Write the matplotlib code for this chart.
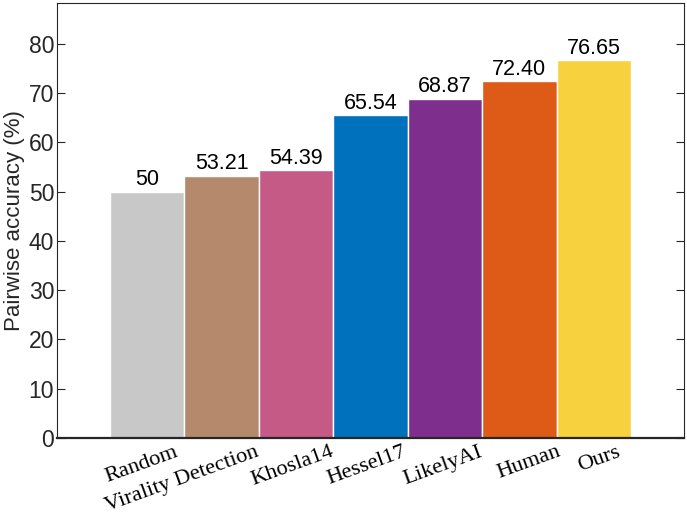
import matplotlib
matplotlib.use("Agg")
import matplotlib.pyplot as plt
import matplotlib.transforms as mtransforms

categories = ["Random", "Virality Detection", "Khosla14", "Hessel17", "LikelyAI", "Human", "Ours"]
values = [50, 53.21, 54.39, 65.54, 68.87, 72.40, 76.65]
value_labels = ["50", "53.21", "54.39", "65.54", "68.87", "72.40", "76.65"]
colors = ["#C8C8C8", "#B5896C", "#C65A87", "#0072BD", "#7E2F8E", "#DD5B17", "#F8D13F"]
yticks = [0, 10, 20, 30, 40, 50, 60, 70, 80]

# layout: horizontal nudge of each rotated category label (pixels)
label_dx_px = [27, 33, 34, 32, 34, 37, 23]

fig = plt.figure(figsize=(6.87, 5.17), dpi=100)
ax = fig.add_axes([57/687, 79/517, (684-57)/687, (438-3)/517])

x = list(range(len(categories)))
ax.bar(x, values, width=1.0, color=colors, edgecolor="white", linewidth=1.0, zorder=2)

for xi, v, lab in zip(x, values, value_labels):
    ax.annotate(lab, (xi, v), xytext=(0, 1.0), textcoords="offset points",
                ha="center", va="bottom", fontsize=15.5, family="Liberation Sans", color="black")

ax.set_xlim(-1.21, 7.21)
ax.set_ylim(0, 88.3)
ax.set_yticks(yticks)
ax.set_yticklabels([str(t) for t in yticks], fontsize=16.5, family="Liberation Sans", color="#262626")
ax.set_xticks(x)
ax.set_xticklabels([])
ax.tick_params(axis="x", length=0)
ax.tick_params(axis="y", direction="in", length=6, width=0.8, color="#262626", right=True, pad=2)
ax.set_ylabel("Pairwise accuracy (%)", fontsize=16, family="Liberation Sans", color="#262626", labelpad=3)

for s in ["left", "right", "top"]:
    ax.spines[s].set_color("#262626")
    ax.spines[s].set_linewidth(0.8)
ax.spines["bottom"].set_color("#262626")
ax.spines["bottom"].set_linewidth(1.6)

trans = mtransforms.blended_transform_factory(ax.transData, ax.transAxes)
for xi, lab, dx in zip(x, categories, label_dx_px):
    offset = mtransforms.ScaledTranslation(dx / 100, -0.045, fig.dpi_scale_trans)
    ax.text(xi, 0, lab, transform=trans + offset, rotation=20, rotation_mode="anchor",
            ha="right", va="top", fontsize=16.2, family="Liberation Serif", color="black")

fig.savefig("out.png", dpi=100)
